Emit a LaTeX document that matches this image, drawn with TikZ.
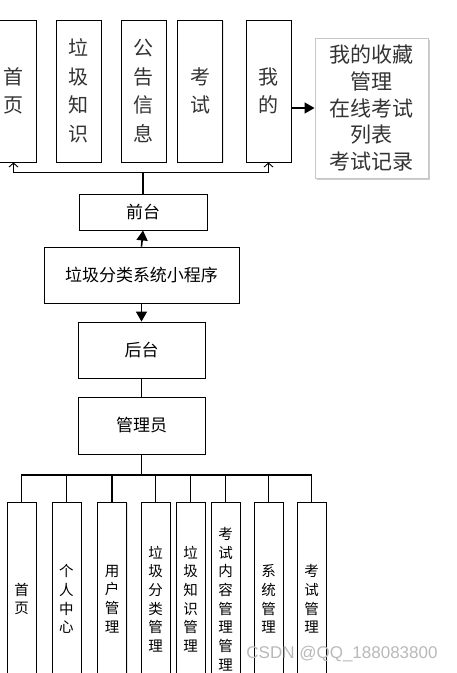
\documentclass[tikz,border=0pt]{standalone}
\usepackage{fontspec}
\newfontfamily\cjk{Noto Sans CJK SC}
\newfontfamily\wmfont{Liberation Sans}
\usetikzlibrary{arrows.meta,shadows}

\tikzset{
  plainbox/.style={draw, fill=white, line width=0.9pt, inner sep=0pt, align=center},
  box/.style={plainbox, drop shadow={shadow xshift=1.2pt, shadow yshift=-1.2pt, opacity=0.2}},
  topbox/.style={box, minimum width=45pt, minimum height=142pt, text=black!80,
    font=\cjk\fontsize{20}{28.5}\selectfont},
  midbox/.style={box, font=\cjk\fontsize{17}{20}\selectfont},
  subbox/.style={box, minimum width=29pt, minimum height=194pt,
    font=\cjk\fontsize{14.5}{18.7}\selectfont},
  fillarrow/.style={line width=1.6pt, -{Triangle[length=10pt,width=11pt]}},
  openarrow/.style={line width=0.9pt, -{Straight Barb[length=4pt,width=9pt]}},
  busline/.style={line width=1.1pt},
}

\begin{document}
\begin{tikzpicture}[x=1pt,y=-1pt]

  \useasboundingbox (0,0) rectangle (456,673);

  % Front-end modules
  \node[topbox] (fshouye) at (13.5,91)  {首\\页};
  \node[topbox] (fzhishi) at (78.5,91)  {垃\\圾\\知\\识};
  \node[topbox] (fgonggao) at (143.5,91) {公\\告\\信\\息};
  \node[topbox] (fkaoshi) at (200,91)   {考\\试};
  \node[topbox] (fwode) at (268.5,91)   {我\\的};

  % Details of "mine"
  \node[plainbox, draw=gray!45, text=black!80, minimum width=113pt, minimum height=140pt,
    font=\cjk\fontsize{21}{26.7}\selectfont,
    drop shadow={shadow xshift=1.8pt, shadow yshift=-1.8pt, fill=blue!40!gray, opacity=0.3}]
    (detail) at (371.5,108) {我的收藏\\管理\\在线考试\\列表\\考试记录};

  % Main blocks
  \node[midbox, minimum width=128pt, minimum height=36pt] (qiantai) at (143,212) {前台};
  \node[midbox, minimum width=195pt, minimum height=56pt] (app) at (141.5,275) {垃圾分类系统小程序};
  \node[midbox, minimum width=127pt, minimum height=56pt] (houtai) at (141.5,350) {后台};
  \node[midbox, minimum width=127pt, minimum height=57pt] (admin) at (141.5,425.5) {管理员};

  % Back-end modules
  \node[subbox] (bshouye) at (21.5,599)  {首\\页};
  \node[subbox] (bgeren) at (66.5,599)   {个\\人\\中\\心};
  \node[subbox] (byonghu) at (112,599)   {用\\户\\管\\理};
  \node[subbox] (bfenlei) at (155.5,599) {垃\\圾\\分\\类\\管\\理};
  \node[subbox] (bzhishi) at (190.5,599) {垃\\圾\\知\\识\\管\\理};
  \node[subbox] (bneirong) at (225.5,599) {考\\试\\内\\容\\管\\理\\管\\理};
  \node[subbox] (bxitong) at (268.5,599) {系\\统\\管\\理};
  \node[subbox] (bkaoshi) at (311.5,599) {考\\试\\管\\理};

  % Front bus
  \coordinate (fbus) at (143,172);
  \draw[busline] (qiantai.north) -- (fbus);
  \draw[openarrow] (fbus) -| (fshouye.south);
  \draw[openarrow] (fbus) -| (fwode.south);
  \draw[fillarrow] (fwode.east) -- (fwode.east |- detail.west) -- (detail.west);

  % Arrows between blocks
  \draw[fillarrow] (app.north) -- (qiantai.south);
  \draw[fillarrow] (app.south) -- (houtai.north);
  \draw[busline] (houtai.south) -- (admin.north);

  % Back bus
  \coordinate (bbus) at (141.5,475);
  \draw[line width=1.8pt] (admin.south) -- (bbus);
  \draw[busline] (bbus) -| (bshouye.north) (bbus) -| (bgeren.north)
    (bbus) -| (byonghu.north) (bbus) -| (bfenlei.north)
    (bbus) -| (bzhishi.north) (bbus) -| (bneirong.north)
    (bbus) -| (bxitong.north) (bbus) -| (bkaoshi.north);

  % Watermark
  \node[font=\wmfont\fontsize{17}{17}\selectfont, text=gray!55] (watermark) at (342,654) {CSDN @QQ\_188083800};

\end{tikzpicture}
\end{document}
